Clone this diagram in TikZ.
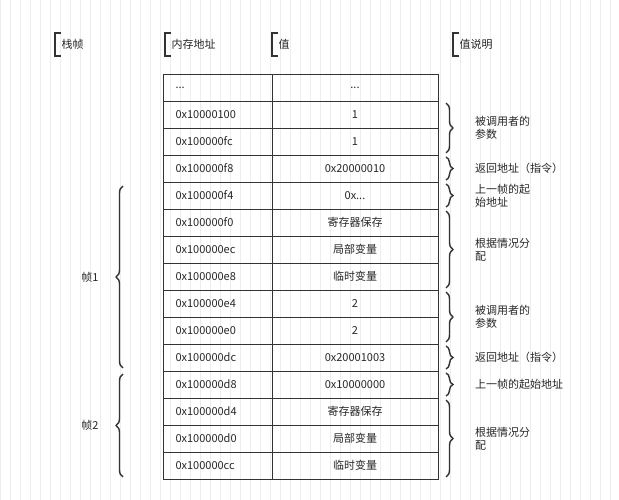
\documentclass[tikz,border=0pt]{standalone}
\usepackage{fontspec}
\setmainfont{Noto Sans CJK SC}
\usetikzlibrary{decorations.pathreplacing}
\newcommand\tdots{...}
\begin{document}
\begin{tikzpicture}[x=1pt,y=-1pt,
  txt/.style={font=\fontsize{11}{13}\selectfont,text=black!85},
  cell/.style={draw=black!80,line width=1.3pt},
  brc/.style={draw=black!80,line width=1.4pt,decorate,decoration={brace,amplitude=7pt}},
  hb/.style={draw=black!80,line width=1.5pt}]
\useasboundingbox (0,0) rectangle (619,500);
\draw[black!7,line width=0.6pt] (0,0) grid[step=10] (619,500);
% headers
\foreach \x/\t/\n in {55/栈帧/h1,165/内存地址/h2,272/值/h3,453/值说明/h4}{
  \draw[hb] (\x+6,33) -- (\x,33) -- (\x,56) -- (\x+6,56);
  \node[txt,anchor=west] (\n) at (\x+3,44) {\t};
}
% table
\foreach \i/\a/\v in {0/\tdots/\tdots,1/0x10000100/1,2/0x100000fc/1,3/0x100000f8/0x20000010,4/0x100000f4/0x\tdots,5/0x100000f0/寄存器保存,6/0x100000ec/局部变量,7/0x100000e8/临时变量,8/0x100000e4/2,9/0x100000e0/2,10/0x100000dc/0x20001003,11/0x100000d8/0x10000000,12/0x100000d4/寄存器保存,13/0x100000d0/局部变量,14/0x100000cc/临时变量}{
  \node[cell,minimum width=109pt,minimum height=27pt,anchor=north west,inner sep=0pt] (a\i) at (163,74+27*\i) {};
  \node[cell,minimum width=166pt,minimum height=27pt,anchor=north west,inner sep=0pt] (v\i) at (272,74+27*\i) {};
  \node[txt,anchor=west] at (172,87.5+27*\i) {\a};
  \node[txt] at (355,87.5+27*\i) {\v};
}
% right braces
\foreach \t/\b/\l/\n in {101/155/{被调用者的\\参数}/r1,155/182/{返回地址（指令）}/r2,182/209/{上一帧的起\\始地址}/r3,209/290/{根据情况分\\配}/r4,290/344/{被调用者的\\参数}/r5,344/371/{返回地址（指令）}/r6,371/398/{上一帧的起始地址}/r7,398/479/{根据情况分\\配}/r8}{
  \draw[brc] (446,\t+2) -- (446,\b-2);
  \node[txt,anchor=west,align=left,inner sep=0pt] (\n) at (475,{(\t+\b)/2}) {\l};
}
% left braces
\draw[brc] (123,368) -- (123,186);
\node[txt,anchor=east] (f1) at (102,277) {帧1};
\draw[brc] (123,477) -- (123,374);
\node[txt,anchor=east] (f2) at (102,425) {帧2};
\end{tikzpicture}
\end{document}
